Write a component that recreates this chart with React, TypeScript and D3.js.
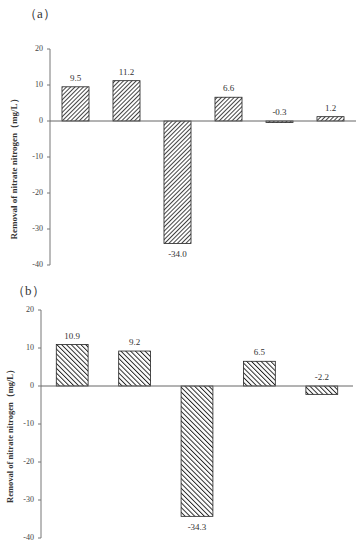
import { scaleLinear, scaleBand } from "d3";

// panel (a) and (b) values, mg/L
const valuesA = [9.5, 11.2, -34.0, 6.6, -0.3, 1.2];
const valuesB = [10.9, 9.2, -34.3, 6.5, -2.2];
const yTicks = [20, 10, 0, -10, -20, -30, -40];
const yLabel = "Removal of nitrate nitrogen（mg/L）";

const font = "Liberation Serif, Times New Roman, serif";

type PanelProps = {
  values: number[];
  title: string;
  patternId: string;
  x0: number;
  x1: number;
  yTop: number;
  yBottom: number;
  titleX: number;
  titleY: number;
  labelX: number;
  labelSize: number;
  padding: number;
};

function Panel({ values, title, patternId, x0, x1, yTop, yBottom, titleX, titleY, labelX, labelSize, padding }: PanelProps) {
  let y = scaleLinear().domain([-40, 20]).range([yBottom, yTop]);
  let x = scaleBand<number>()
    .domain(values.map((_, i) => i))
    .range([x0, x1])
    .paddingInner(padding)
    .paddingOuter(padding / 2);
  let zero = y(0);

  return (
    <g>
      <text x={titleX} y={titleY} fontSize={13} fill="#333" fontFamily={font} dominantBaseline="middle">
        {title}
      </text>

      {/* y label */}
      <text
        transform={`translate(${labelX},${(yTop + yBottom) / 2 + 10}) rotate(-90)`}
        textAnchor="middle"
        fontSize={labelSize}
        fontWeight="bold"
        fill="#333"
        fontFamily={font}
      >
        {yLabel}
      </text>

      {/* Y axis */}
      <line x1={x0} x2={x0} y1={yTop} y2={yBottom} stroke="#777" strokeWidth={1} />
      {yTicks.map((t) => (
        <g key={t}>
          <line x1={x0 - 3} x2={x0} y1={y(t)} y2={y(t)} stroke="#777" />
          <text
            x={x0 - 7}
            y={y(t)}
            textAnchor="end"
            dominantBaseline="middle"
            fontSize={8}
            fill="#444"
            fontFamily={font}
          >
            {t < 0 ? `-${Math.abs(t)}` : t}
          </text>
        </g>
      ))}

      {/* Bars */}
      {values.map((v, i) => {
        let top = Math.min(y(v), zero);
        let h = Math.abs(y(v) - zero);
        let labelY = v >= 0 || v > -5 ? Math.min(y(v), zero) - 8 : y(v) + 12;
        return (
          <g key={i}>
            <rect
              x={x(i)}
              y={top}
              width={x.bandwidth()}
              height={Math.max(h, 1.5)}
              fill={`url(#${patternId})`}
              stroke="#222"
              strokeWidth={0.8}
            />
            <text
              x={(x(i) ?? 0) + x.bandwidth() / 2}
              y={labelY}
              textAnchor="middle"
              dominantBaseline="middle"
              fontSize={9}
              fill="#333"
              fontFamily={font}
            >
              {v.toFixed(1)}
            </text>
          </g>
        );
      })}

      {/* zero line */}
      <line x1={x0} x2={x1} y1={zero} y2={zero} stroke="#666" strokeWidth={1} />
    </g>
  );
}

export default function App() {
  return (
    <svg
      width={362}
      height={550}
      style={{ position: "absolute", left: 0, top: 0, background: "#fff" }}
    >
      <defs>
        <pattern id="hatchA" patternUnits="userSpaceOnUse" width={3} height={3} patternTransform="rotate(45)">
          <line x1={0} y1={0} x2={0} y2={3} stroke="#222" strokeWidth={1.7} />
        </pattern>
        <pattern id="hatchB" patternUnits="userSpaceOnUse" width={3.4} height={3.4} patternTransform="rotate(-45)">
          <line x1={0} y1={0} x2={0} y2={3.4} stroke="#222" strokeWidth={1.9} />
        </pattern>
      </defs>
      <rect width={362} height={550} fill="#fff" />

      <Panel
        values={valuesA}
        title="（a）"
        patternId="hatchA"
        x0={50}
        x1={356}
        yTop={49}
        yBottom={265}
        titleX={24}
        titleY={15}
        labelX={17}
        labelSize={9}
        padding={0.47}
      />
      <Panel
        values={valuesB}
        title="（b）"
        patternId="hatchB"
        x0={41}
        x1={353}
        yTop={310}
        yBottom={538}
        titleX={12}
        titleY={292}
        labelX={13}
        labelSize={8.5}
        padding={0.49}
      />
    </svg>
  );
}
